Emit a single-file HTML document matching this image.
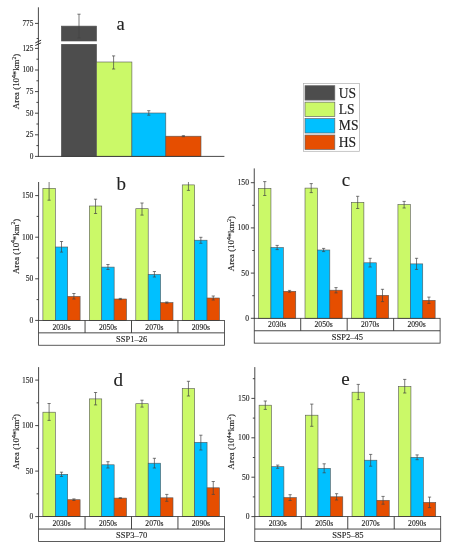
<!DOCTYPE html>
<html><head><meta charset="utf-8"><title>Figure</title>
<style>html,body{margin:0;padding:0;background:#fff}svg{display:block}text{font-family:"Liberation Serif","Times New Roman",serif;stroke:#222;stroke-width:0.12px}</style>
</head><body>
<svg width="454" height="550" viewBox="0 0 454 550">
<rect width="454" height="550" fill="#fff"/>
<rect x="61.30" y="26.10" width="35.30" height="130.30" fill="#4d4d4d" stroke="#555" stroke-width="0.6"/>
<rect x="96.60" y="62.00" width="35.30" height="94.40" fill="#cbf968" stroke="#555" stroke-width="0.6"/>
<rect x="131.90" y="113.00" width="33.90" height="43.40" fill="#00c0ff" stroke="#555" stroke-width="0.6"/>
<rect x="165.80" y="136.20" width="35.20" height="20.20" fill="#e64e00" stroke="#555" stroke-width="0.6"/>
<rect x="60.5" y="41.3" width="37" height="2.8" fill="#fff"/>
<line x1="79.00" y1="14.20" x2="79.00" y2="38.00" stroke="#444" stroke-width="0.7"/>
<line x1="77.40" y1="14.20" x2="80.60" y2="14.20" stroke="#444" stroke-width="0.7"/>
<line x1="77.40" y1="38.00" x2="80.60" y2="38.00" stroke="#444" stroke-width="0.7"/>
<line x1="113.60" y1="55.90" x2="113.60" y2="69.00" stroke="#444" stroke-width="0.7"/>
<line x1="112.00" y1="55.90" x2="115.20" y2="55.90" stroke="#444" stroke-width="0.7"/>
<line x1="112.00" y1="69.00" x2="115.20" y2="69.00" stroke="#444" stroke-width="0.7"/>
<line x1="148.80" y1="110.70" x2="148.80" y2="115.20" stroke="#444" stroke-width="0.7"/>
<line x1="147.20" y1="110.70" x2="150.40" y2="110.70" stroke="#444" stroke-width="0.7"/>
<line x1="147.20" y1="115.20" x2="150.40" y2="115.20" stroke="#444" stroke-width="0.7"/>
<line x1="183.40" y1="135.70" x2="183.40" y2="136.70" stroke="#444" stroke-width="0.7"/>
<line x1="181.80" y1="135.70" x2="185.00" y2="135.70" stroke="#444" stroke-width="0.7"/>
<line x1="181.80" y1="136.70" x2="185.00" y2="136.70" stroke="#444" stroke-width="0.7"/>
<line x1="38.40" y1="7.30" x2="38.40" y2="156.40" stroke="#333" stroke-width="0.9"/>
<line x1="38.00" y1="156.40" x2="224.40" y2="156.40" stroke="#333" stroke-width="0.9"/>
<line x1="35.30" y1="42.90" x2="41.10" y2="40.20" stroke="#333" stroke-width="1.0"/>
<line x1="35.30" y1="45.50" x2="41.10" y2="42.80" stroke="#333" stroke-width="1.0"/>
<line x1="35.00" y1="156.40" x2="38.40" y2="156.40" stroke="#333" stroke-width="0.9"/>
<text x="33.40" y="158.80" font-size="7.3" text-anchor="end" fill="#222" >0</text>
<line x1="36.40" y1="145.60" x2="38.40" y2="145.60" stroke="#333" stroke-width="0.9"/>
<line x1="35.00" y1="134.80" x2="38.40" y2="134.80" stroke="#333" stroke-width="0.9"/>
<text x="33.40" y="137.20" font-size="7.3" text-anchor="end" fill="#222" >25</text>
<line x1="36.40" y1="124.00" x2="38.40" y2="124.00" stroke="#333" stroke-width="0.9"/>
<line x1="35.00" y1="113.20" x2="38.40" y2="113.20" stroke="#333" stroke-width="0.9"/>
<text x="33.40" y="115.60" font-size="7.3" text-anchor="end" fill="#222" >50</text>
<line x1="36.40" y1="102.40" x2="38.40" y2="102.40" stroke="#333" stroke-width="0.9"/>
<line x1="35.00" y1="91.60" x2="38.40" y2="91.60" stroke="#333" stroke-width="0.9"/>
<text x="33.40" y="94.00" font-size="7.3" text-anchor="end" fill="#222" >75</text>
<line x1="36.40" y1="80.80" x2="38.40" y2="80.80" stroke="#333" stroke-width="0.9"/>
<line x1="35.00" y1="70.00" x2="38.40" y2="70.00" stroke="#333" stroke-width="0.9"/>
<text x="33.40" y="72.40" font-size="7.3" text-anchor="end" fill="#222" >100</text>
<line x1="36.40" y1="59.20" x2="38.40" y2="59.20" stroke="#333" stroke-width="0.9"/>
<line x1="35.00" y1="48.40" x2="38.40" y2="48.40" stroke="#333" stroke-width="0.9"/>
<text x="33.40" y="50.80" font-size="7.3" text-anchor="end" fill="#222" >125</text>
<line x1="35.00" y1="23.40" x2="38.40" y2="23.40" stroke="#333" stroke-width="0.9"/>
<text x="33.40" y="25.80" font-size="7.3" text-anchor="end" fill="#222" >775</text>
<line x1="36.60" y1="38.50" x2="38.40" y2="38.50" stroke="#333" stroke-width="0.9"/>
<text transform="translate(18.90,81.50) rotate(-90) scale(1.065,1)" font-size="8.3" text-anchor="middle" fill="#222">Area (10<tspan font-size="5.15" dy="-3.15">4</tspan><tspan dy="3.15">*km</tspan><tspan font-size="5.15" dy="-3.15">2</tspan><tspan dy="3.15">)</tspan></text>
<text x="116.50" y="30.30" font-size="18.6" text-anchor="start" fill="#222" >a</text>
<rect x="303.40" y="83.60" width="56.00" height="67.70" fill="#fff" stroke="#b0b0b0" stroke-width="0.7"/>
<rect x="305.00" y="85.70" width="29.80" height="14.40" fill="#4d4d4d" stroke="#666" stroke-width="0.7"/>
<text x="338.80" y="97.50" font-size="13.6" text-anchor="start" fill="#222" >US</text>
<rect x="305.00" y="102.15" width="29.80" height="14.40" fill="#cbf968" stroke="#666" stroke-width="0.7"/>
<text x="338.80" y="113.95" font-size="13.6" text-anchor="start" fill="#222" >LS</text>
<rect x="305.00" y="118.60" width="29.80" height="14.40" fill="#00c0ff" stroke="#666" stroke-width="0.7"/>
<text x="338.80" y="130.40" font-size="13.6" text-anchor="start" fill="#222" >MS</text>
<rect x="305.00" y="135.05" width="29.80" height="14.40" fill="#e64e00" stroke="#666" stroke-width="0.7"/>
<text x="338.80" y="146.85" font-size="13.6" text-anchor="start" fill="#222" >HS</text>
<rect x="42.90" y="188.30" width="12.40" height="132.10" fill="#cbf968" stroke="#555" stroke-width="0.6"/>
<rect x="55.30" y="247.00" width="12.40" height="73.40" fill="#00c0ff" stroke="#555" stroke-width="0.6"/>
<rect x="67.70" y="296.40" width="12.40" height="24.00" fill="#e64e00" stroke="#555" stroke-width="0.6"/>
<line x1="49.10" y1="182.00" x2="49.10" y2="200.20" stroke="#444" stroke-width="0.7"/>
<line x1="47.50" y1="200.20" x2="50.70" y2="200.20" stroke="#444" stroke-width="0.7"/>
<line x1="61.50" y1="241.50" x2="61.50" y2="252.10" stroke="#444" stroke-width="0.7"/>
<line x1="59.90" y1="241.50" x2="63.10" y2="241.50" stroke="#444" stroke-width="0.7"/>
<line x1="59.90" y1="252.10" x2="63.10" y2="252.10" stroke="#444" stroke-width="0.7"/>
<line x1="73.90" y1="293.50" x2="73.90" y2="299.00" stroke="#444" stroke-width="0.7"/>
<line x1="72.30" y1="293.50" x2="75.50" y2="293.50" stroke="#444" stroke-width="0.7"/>
<line x1="72.30" y1="299.00" x2="75.50" y2="299.00" stroke="#444" stroke-width="0.7"/>
<rect x="89.35" y="206.00" width="12.40" height="114.40" fill="#cbf968" stroke="#555" stroke-width="0.6"/>
<rect x="101.75" y="267.10" width="12.40" height="53.30" fill="#00c0ff" stroke="#555" stroke-width="0.6"/>
<rect x="114.15" y="299.00" width="12.40" height="21.40" fill="#e64e00" stroke="#555" stroke-width="0.6"/>
<line x1="95.55" y1="199.20" x2="95.55" y2="213.50" stroke="#444" stroke-width="0.7"/>
<line x1="93.95" y1="199.20" x2="97.15" y2="199.20" stroke="#444" stroke-width="0.7"/>
<line x1="93.95" y1="213.50" x2="97.15" y2="213.50" stroke="#444" stroke-width="0.7"/>
<line x1="107.95" y1="264.50" x2="107.95" y2="269.50" stroke="#444" stroke-width="0.7"/>
<line x1="106.35" y1="264.50" x2="109.55" y2="264.50" stroke="#444" stroke-width="0.7"/>
<line x1="106.35" y1="269.50" x2="109.55" y2="269.50" stroke="#444" stroke-width="0.7"/>
<line x1="120.35" y1="298.40" x2="120.35" y2="299.60" stroke="#444" stroke-width="0.7"/>
<line x1="118.75" y1="298.40" x2="121.95" y2="298.40" stroke="#444" stroke-width="0.7"/>
<line x1="118.75" y1="299.60" x2="121.95" y2="299.60" stroke="#444" stroke-width="0.7"/>
<rect x="135.80" y="208.70" width="12.40" height="111.70" fill="#cbf968" stroke="#555" stroke-width="0.6"/>
<rect x="148.20" y="274.40" width="12.40" height="46.00" fill="#00c0ff" stroke="#555" stroke-width="0.6"/>
<rect x="160.60" y="302.60" width="12.40" height="17.80" fill="#e64e00" stroke="#555" stroke-width="0.6"/>
<line x1="142.00" y1="203.00" x2="142.00" y2="215.10" stroke="#444" stroke-width="0.7"/>
<line x1="140.40" y1="203.00" x2="143.60" y2="203.00" stroke="#444" stroke-width="0.7"/>
<line x1="140.40" y1="215.10" x2="143.60" y2="215.10" stroke="#444" stroke-width="0.7"/>
<line x1="154.40" y1="271.50" x2="154.40" y2="277.00" stroke="#444" stroke-width="0.7"/>
<line x1="152.80" y1="271.50" x2="156.00" y2="271.50" stroke="#444" stroke-width="0.7"/>
<line x1="152.80" y1="277.00" x2="156.00" y2="277.00" stroke="#444" stroke-width="0.7"/>
<line x1="166.80" y1="302.00" x2="166.80" y2="303.20" stroke="#444" stroke-width="0.7"/>
<line x1="165.20" y1="302.00" x2="168.40" y2="302.00" stroke="#444" stroke-width="0.7"/>
<line x1="165.20" y1="303.20" x2="168.40" y2="303.20" stroke="#444" stroke-width="0.7"/>
<rect x="182.25" y="184.90" width="12.40" height="135.50" fill="#cbf968" stroke="#555" stroke-width="0.6"/>
<rect x="194.65" y="240.20" width="12.40" height="80.20" fill="#00c0ff" stroke="#555" stroke-width="0.6"/>
<rect x="207.05" y="298.00" width="12.40" height="22.40" fill="#e64e00" stroke="#555" stroke-width="0.6"/>
<line x1="188.45" y1="182.00" x2="188.45" y2="190.40" stroke="#444" stroke-width="0.7"/>
<line x1="186.85" y1="190.40" x2="190.05" y2="190.40" stroke="#444" stroke-width="0.7"/>
<line x1="200.85" y1="237.30" x2="200.85" y2="243.30" stroke="#444" stroke-width="0.7"/>
<line x1="199.25" y1="237.30" x2="202.45" y2="237.30" stroke="#444" stroke-width="0.7"/>
<line x1="199.25" y1="243.30" x2="202.45" y2="243.30" stroke="#444" stroke-width="0.7"/>
<line x1="213.25" y1="296.00" x2="213.25" y2="300.00" stroke="#444" stroke-width="0.7"/>
<line x1="211.65" y1="296.00" x2="214.85" y2="296.00" stroke="#444" stroke-width="0.7"/>
<line x1="211.65" y1="300.00" x2="214.85" y2="300.00" stroke="#444" stroke-width="0.7"/>
<line x1="38.60" y1="182.00" x2="38.60" y2="320.40" stroke="#333" stroke-width="0.9"/>
<line x1="35.20" y1="320.40" x2="38.60" y2="320.40" stroke="#333" stroke-width="0.9"/>
<text x="33.30" y="322.90" font-size="7.6" text-anchor="end" fill="#222" >0</text>
<line x1="35.20" y1="278.80" x2="38.60" y2="278.80" stroke="#333" stroke-width="0.9"/>
<text x="33.30" y="281.30" font-size="7.6" text-anchor="end" fill="#222" >50</text>
<line x1="35.20" y1="237.20" x2="38.60" y2="237.20" stroke="#333" stroke-width="0.9"/>
<text x="33.30" y="239.70" font-size="7.6" text-anchor="end" fill="#222" >100</text>
<line x1="35.20" y1="195.60" x2="38.60" y2="195.60" stroke="#333" stroke-width="0.9"/>
<text x="33.30" y="198.10" font-size="7.6" text-anchor="end" fill="#222" >150</text>
<line x1="36.60" y1="299.60" x2="38.60" y2="299.60" stroke="#333" stroke-width="0.9"/>
<line x1="36.60" y1="258.00" x2="38.60" y2="258.00" stroke="#333" stroke-width="0.9"/>
<line x1="36.60" y1="216.40" x2="38.60" y2="216.40" stroke="#333" stroke-width="0.9"/>
<rect x="38.60" y="320.40" width="185.80" height="24.85" fill="none" stroke="#333" stroke-width="0.8"/>
<line x1="38.60" y1="332.85" x2="224.40" y2="332.85" stroke="#333" stroke-width="0.9"/>
<line x1="85.05" y1="320.40" x2="85.05" y2="332.85" stroke="#333" stroke-width="0.9"/>
<line x1="131.50" y1="320.40" x2="131.50" y2="332.85" stroke="#333" stroke-width="0.9"/>
<line x1="177.95" y1="320.40" x2="177.95" y2="332.85" stroke="#333" stroke-width="0.9"/>
<text x="61.53" y="329.50" font-size="7.6" text-anchor="middle" fill="#222" >2030s</text>
<text x="107.98" y="329.50" font-size="7.6" text-anchor="middle" fill="#222" >2050s</text>
<text x="154.42" y="329.50" font-size="7.6" text-anchor="middle" fill="#222" >2070s</text>
<text x="200.88" y="329.50" font-size="7.6" text-anchor="middle" fill="#222" >2090s</text>
<text x="131.70" y="342.15" font-size="8.5" text-anchor="middle" fill="#222" >SSP1–26</text>
<text transform="translate(18.50,246.40) rotate(-90) scale(1.065,1)" font-size="8.3" text-anchor="middle" fill="#222">Area (10<tspan font-size="5.15" dy="-3.15">4</tspan><tspan dy="3.15">*km</tspan><tspan font-size="5.15" dy="-3.15">2</tspan><tspan dy="3.15">)</tspan></text>
<text x="116.60" y="189.70" font-size="19" text-anchor="start" fill="#222" >b</text>
<rect x="258.55" y="188.40" width="12.40" height="129.90" fill="#cbf968" stroke="#555" stroke-width="0.6"/>
<rect x="270.95" y="247.50" width="12.40" height="70.80" fill="#00c0ff" stroke="#555" stroke-width="0.6"/>
<rect x="283.35" y="291.30" width="12.40" height="27.00" fill="#e64e00" stroke="#555" stroke-width="0.6"/>
<line x1="264.75" y1="181.60" x2="264.75" y2="195.50" stroke="#444" stroke-width="0.7"/>
<line x1="263.15" y1="181.60" x2="266.35" y2="181.60" stroke="#444" stroke-width="0.7"/>
<line x1="263.15" y1="195.50" x2="266.35" y2="195.50" stroke="#444" stroke-width="0.7"/>
<line x1="277.15" y1="245.40" x2="277.15" y2="249.60" stroke="#444" stroke-width="0.7"/>
<line x1="275.55" y1="245.40" x2="278.75" y2="245.40" stroke="#444" stroke-width="0.7"/>
<line x1="275.55" y1="249.60" x2="278.75" y2="249.60" stroke="#444" stroke-width="0.7"/>
<line x1="289.55" y1="290.40" x2="289.55" y2="292.20" stroke="#444" stroke-width="0.7"/>
<line x1="287.95" y1="290.40" x2="291.15" y2="290.40" stroke="#444" stroke-width="0.7"/>
<line x1="287.95" y1="292.20" x2="291.15" y2="292.20" stroke="#444" stroke-width="0.7"/>
<rect x="305.01" y="188.10" width="12.40" height="130.20" fill="#cbf968" stroke="#555" stroke-width="0.6"/>
<rect x="317.41" y="250.00" width="12.40" height="68.30" fill="#00c0ff" stroke="#555" stroke-width="0.6"/>
<rect x="329.81" y="290.20" width="12.40" height="28.10" fill="#e64e00" stroke="#555" stroke-width="0.6"/>
<line x1="311.21" y1="183.60" x2="311.21" y2="192.60" stroke="#444" stroke-width="0.7"/>
<line x1="309.61" y1="183.60" x2="312.81" y2="183.60" stroke="#444" stroke-width="0.7"/>
<line x1="309.61" y1="192.60" x2="312.81" y2="192.60" stroke="#444" stroke-width="0.7"/>
<line x1="323.61" y1="248.40" x2="323.61" y2="251.60" stroke="#444" stroke-width="0.7"/>
<line x1="322.01" y1="248.40" x2="325.21" y2="248.40" stroke="#444" stroke-width="0.7"/>
<line x1="322.01" y1="251.60" x2="325.21" y2="251.60" stroke="#444" stroke-width="0.7"/>
<line x1="336.01" y1="287.60" x2="336.01" y2="292.90" stroke="#444" stroke-width="0.7"/>
<line x1="334.41" y1="287.60" x2="337.61" y2="287.60" stroke="#444" stroke-width="0.7"/>
<line x1="334.41" y1="292.90" x2="337.61" y2="292.90" stroke="#444" stroke-width="0.7"/>
<rect x="351.48" y="202.30" width="12.40" height="116.00" fill="#cbf968" stroke="#555" stroke-width="0.6"/>
<rect x="363.88" y="262.80" width="12.40" height="55.50" fill="#00c0ff" stroke="#555" stroke-width="0.6"/>
<rect x="376.28" y="295.30" width="12.40" height="23.00" fill="#e64e00" stroke="#555" stroke-width="0.6"/>
<line x1="357.68" y1="196.30" x2="357.68" y2="208.50" stroke="#444" stroke-width="0.7"/>
<line x1="356.07" y1="196.30" x2="359.28" y2="196.30" stroke="#444" stroke-width="0.7"/>
<line x1="356.07" y1="208.50" x2="359.28" y2="208.50" stroke="#444" stroke-width="0.7"/>
<line x1="370.07" y1="258.30" x2="370.07" y2="267.00" stroke="#444" stroke-width="0.7"/>
<line x1="368.47" y1="258.30" x2="371.68" y2="258.30" stroke="#444" stroke-width="0.7"/>
<line x1="368.47" y1="267.00" x2="371.68" y2="267.00" stroke="#444" stroke-width="0.7"/>
<line x1="382.48" y1="289.30" x2="382.48" y2="301.60" stroke="#444" stroke-width="0.7"/>
<line x1="380.88" y1="289.30" x2="384.08" y2="289.30" stroke="#444" stroke-width="0.7"/>
<line x1="380.88" y1="301.60" x2="384.08" y2="301.60" stroke="#444" stroke-width="0.7"/>
<rect x="397.94" y="204.50" width="12.40" height="113.80" fill="#cbf968" stroke="#555" stroke-width="0.6"/>
<rect x="410.34" y="263.90" width="12.40" height="54.40" fill="#00c0ff" stroke="#555" stroke-width="0.6"/>
<rect x="422.74" y="300.30" width="12.40" height="18.00" fill="#e64e00" stroke="#555" stroke-width="0.6"/>
<line x1="404.14" y1="201.40" x2="404.14" y2="208.00" stroke="#444" stroke-width="0.7"/>
<line x1="402.54" y1="201.40" x2="405.74" y2="201.40" stroke="#444" stroke-width="0.7"/>
<line x1="402.54" y1="208.00" x2="405.74" y2="208.00" stroke="#444" stroke-width="0.7"/>
<line x1="416.54" y1="258.30" x2="416.54" y2="269.40" stroke="#444" stroke-width="0.7"/>
<line x1="414.94" y1="258.30" x2="418.14" y2="258.30" stroke="#444" stroke-width="0.7"/>
<line x1="414.94" y1="269.40" x2="418.14" y2="269.40" stroke="#444" stroke-width="0.7"/>
<line x1="428.94" y1="297.10" x2="428.94" y2="303.40" stroke="#444" stroke-width="0.7"/>
<line x1="427.34" y1="297.10" x2="430.54" y2="297.10" stroke="#444" stroke-width="0.7"/>
<line x1="427.34" y1="303.40" x2="430.54" y2="303.40" stroke="#444" stroke-width="0.7"/>
<line x1="254.25" y1="168.40" x2="254.25" y2="318.30" stroke="#333" stroke-width="0.9"/>
<line x1="250.85" y1="318.30" x2="254.25" y2="318.30" stroke="#333" stroke-width="0.9"/>
<text x="248.95" y="320.80" font-size="7.6" text-anchor="end" fill="#222" >0</text>
<line x1="250.85" y1="273.10" x2="254.25" y2="273.10" stroke="#333" stroke-width="0.9"/>
<text x="248.95" y="275.60" font-size="7.6" text-anchor="end" fill="#222" >50</text>
<line x1="250.85" y1="227.90" x2="254.25" y2="227.90" stroke="#333" stroke-width="0.9"/>
<text x="248.95" y="230.40" font-size="7.6" text-anchor="end" fill="#222" >100</text>
<line x1="250.85" y1="182.70" x2="254.25" y2="182.70" stroke="#333" stroke-width="0.9"/>
<text x="248.95" y="185.20" font-size="7.6" text-anchor="end" fill="#222" >150</text>
<line x1="252.25" y1="295.70" x2="254.25" y2="295.70" stroke="#333" stroke-width="0.9"/>
<line x1="252.25" y1="250.50" x2="254.25" y2="250.50" stroke="#333" stroke-width="0.9"/>
<line x1="252.25" y1="205.30" x2="254.25" y2="205.30" stroke="#333" stroke-width="0.9"/>
<rect x="254.25" y="318.30" width="185.85" height="24.85" fill="none" stroke="#333" stroke-width="0.8"/>
<line x1="254.25" y1="330.75" x2="440.10" y2="330.75" stroke="#333" stroke-width="0.9"/>
<line x1="300.71" y1="318.30" x2="300.71" y2="330.75" stroke="#333" stroke-width="0.9"/>
<line x1="347.18" y1="318.30" x2="347.18" y2="330.75" stroke="#333" stroke-width="0.9"/>
<line x1="393.64" y1="318.30" x2="393.64" y2="330.75" stroke="#333" stroke-width="0.9"/>
<text x="277.18" y="327.40" font-size="7.6" text-anchor="middle" fill="#222" >2030s</text>
<text x="323.64" y="327.40" font-size="7.6" text-anchor="middle" fill="#222" >2050s</text>
<text x="370.11" y="327.40" font-size="7.6" text-anchor="middle" fill="#222" >2070s</text>
<text x="416.57" y="327.40" font-size="7.6" text-anchor="middle" fill="#222" >2090s</text>
<text x="347.38" y="340.05" font-size="8.5" text-anchor="middle" fill="#222" >SSP2–45</text>
<text transform="translate(234.00,243.60) rotate(-90) scale(1.065,1)" font-size="8.3" text-anchor="middle" fill="#222">Area (10<tspan font-size="5.15" dy="-3.15">4</tspan><tspan dy="3.15">*km</tspan><tspan font-size="5.15" dy="-3.15">2</tspan><tspan dy="3.15">)</tspan></text>
<text x="341.80" y="185.70" font-size="19" text-anchor="start" fill="#222" >c</text>
<rect x="42.90" y="412.20" width="12.40" height="104.40" fill="#cbf968" stroke="#555" stroke-width="0.6"/>
<rect x="55.30" y="474.30" width="12.40" height="42.30" fill="#00c0ff" stroke="#555" stroke-width="0.6"/>
<rect x="67.70" y="499.70" width="12.40" height="16.90" fill="#e64e00" stroke="#555" stroke-width="0.6"/>
<line x1="49.10" y1="403.50" x2="49.10" y2="420.40" stroke="#444" stroke-width="0.7"/>
<line x1="47.50" y1="403.50" x2="50.70" y2="403.50" stroke="#444" stroke-width="0.7"/>
<line x1="47.50" y1="420.40" x2="50.70" y2="420.40" stroke="#444" stroke-width="0.7"/>
<line x1="61.50" y1="472.20" x2="61.50" y2="476.50" stroke="#444" stroke-width="0.7"/>
<line x1="59.90" y1="472.20" x2="63.10" y2="472.20" stroke="#444" stroke-width="0.7"/>
<line x1="59.90" y1="476.50" x2="63.10" y2="476.50" stroke="#444" stroke-width="0.7"/>
<line x1="73.90" y1="498.90" x2="73.90" y2="500.50" stroke="#444" stroke-width="0.7"/>
<line x1="72.30" y1="498.90" x2="75.50" y2="498.90" stroke="#444" stroke-width="0.7"/>
<line x1="72.30" y1="500.50" x2="75.50" y2="500.50" stroke="#444" stroke-width="0.7"/>
<rect x="89.35" y="398.90" width="12.40" height="117.70" fill="#cbf968" stroke="#555" stroke-width="0.6"/>
<rect x="101.75" y="464.80" width="12.40" height="51.80" fill="#00c0ff" stroke="#555" stroke-width="0.6"/>
<rect x="114.15" y="498.10" width="12.40" height="18.50" fill="#e64e00" stroke="#555" stroke-width="0.6"/>
<line x1="95.55" y1="392.50" x2="95.55" y2="404.90" stroke="#444" stroke-width="0.7"/>
<line x1="93.95" y1="392.50" x2="97.15" y2="392.50" stroke="#444" stroke-width="0.7"/>
<line x1="93.95" y1="404.90" x2="97.15" y2="404.90" stroke="#444" stroke-width="0.7"/>
<line x1="107.95" y1="461.70" x2="107.95" y2="468.00" stroke="#444" stroke-width="0.7"/>
<line x1="106.35" y1="461.70" x2="109.55" y2="461.70" stroke="#444" stroke-width="0.7"/>
<line x1="106.35" y1="468.00" x2="109.55" y2="468.00" stroke="#444" stroke-width="0.7"/>
<line x1="120.35" y1="497.70" x2="120.35" y2="498.50" stroke="#444" stroke-width="0.7"/>
<line x1="118.75" y1="497.70" x2="121.95" y2="497.70" stroke="#444" stroke-width="0.7"/>
<line x1="118.75" y1="498.50" x2="121.95" y2="498.50" stroke="#444" stroke-width="0.7"/>
<rect x="135.80" y="403.70" width="12.40" height="112.90" fill="#cbf968" stroke="#555" stroke-width="0.6"/>
<rect x="148.20" y="463.20" width="12.40" height="53.40" fill="#00c0ff" stroke="#555" stroke-width="0.6"/>
<rect x="160.60" y="497.80" width="12.40" height="18.80" fill="#e64e00" stroke="#555" stroke-width="0.6"/>
<line x1="142.00" y1="400.20" x2="142.00" y2="407.10" stroke="#444" stroke-width="0.7"/>
<line x1="140.40" y1="400.20" x2="143.60" y2="400.20" stroke="#444" stroke-width="0.7"/>
<line x1="140.40" y1="407.10" x2="143.60" y2="407.10" stroke="#444" stroke-width="0.7"/>
<line x1="154.40" y1="458.30" x2="154.40" y2="468.00" stroke="#444" stroke-width="0.7"/>
<line x1="152.80" y1="458.30" x2="156.00" y2="458.30" stroke="#444" stroke-width="0.7"/>
<line x1="152.80" y1="468.00" x2="156.00" y2="468.00" stroke="#444" stroke-width="0.7"/>
<line x1="166.80" y1="494.40" x2="166.80" y2="501.30" stroke="#444" stroke-width="0.7"/>
<line x1="165.20" y1="494.40" x2="168.40" y2="494.40" stroke="#444" stroke-width="0.7"/>
<line x1="165.20" y1="501.30" x2="168.40" y2="501.30" stroke="#444" stroke-width="0.7"/>
<rect x="182.25" y="388.50" width="12.40" height="128.10" fill="#cbf968" stroke="#555" stroke-width="0.6"/>
<rect x="194.65" y="442.30" width="12.40" height="74.30" fill="#00c0ff" stroke="#555" stroke-width="0.6"/>
<rect x="207.05" y="487.80" width="12.40" height="28.80" fill="#e64e00" stroke="#555" stroke-width="0.6"/>
<line x1="188.45" y1="381.30" x2="188.45" y2="396.00" stroke="#444" stroke-width="0.7"/>
<line x1="186.85" y1="381.30" x2="190.05" y2="381.30" stroke="#444" stroke-width="0.7"/>
<line x1="186.85" y1="396.00" x2="190.05" y2="396.00" stroke="#444" stroke-width="0.7"/>
<line x1="200.85" y1="435.20" x2="200.85" y2="450.00" stroke="#444" stroke-width="0.7"/>
<line x1="199.25" y1="435.20" x2="202.45" y2="435.20" stroke="#444" stroke-width="0.7"/>
<line x1="199.25" y1="450.00" x2="202.45" y2="450.00" stroke="#444" stroke-width="0.7"/>
<line x1="213.25" y1="481.50" x2="213.25" y2="494.40" stroke="#444" stroke-width="0.7"/>
<line x1="211.65" y1="481.50" x2="214.85" y2="481.50" stroke="#444" stroke-width="0.7"/>
<line x1="211.65" y1="494.40" x2="214.85" y2="494.40" stroke="#444" stroke-width="0.7"/>
<line x1="38.60" y1="367.10" x2="38.60" y2="516.60" stroke="#333" stroke-width="0.9"/>
<line x1="35.20" y1="516.60" x2="38.60" y2="516.60" stroke="#333" stroke-width="0.9"/>
<text x="33.30" y="519.10" font-size="7.6" text-anchor="end" fill="#222" >0</text>
<line x1="35.20" y1="471.10" x2="38.60" y2="471.10" stroke="#333" stroke-width="0.9"/>
<text x="33.30" y="473.60" font-size="7.6" text-anchor="end" fill="#222" >50</text>
<line x1="35.20" y1="425.60" x2="38.60" y2="425.60" stroke="#333" stroke-width="0.9"/>
<text x="33.30" y="428.10" font-size="7.6" text-anchor="end" fill="#222" >100</text>
<line x1="35.20" y1="380.10" x2="38.60" y2="380.10" stroke="#333" stroke-width="0.9"/>
<text x="33.30" y="382.60" font-size="7.6" text-anchor="end" fill="#222" >150</text>
<line x1="36.60" y1="493.85" x2="38.60" y2="493.85" stroke="#333" stroke-width="0.9"/>
<line x1="36.60" y1="448.35" x2="38.60" y2="448.35" stroke="#333" stroke-width="0.9"/>
<line x1="36.60" y1="402.85" x2="38.60" y2="402.85" stroke="#333" stroke-width="0.9"/>
<rect x="38.60" y="516.60" width="185.80" height="24.85" fill="none" stroke="#333" stroke-width="0.8"/>
<line x1="38.60" y1="529.05" x2="224.40" y2="529.05" stroke="#333" stroke-width="0.9"/>
<line x1="85.05" y1="516.60" x2="85.05" y2="529.05" stroke="#333" stroke-width="0.9"/>
<line x1="131.50" y1="516.60" x2="131.50" y2="529.05" stroke="#333" stroke-width="0.9"/>
<line x1="177.95" y1="516.60" x2="177.95" y2="529.05" stroke="#333" stroke-width="0.9"/>
<text x="61.53" y="525.70" font-size="7.6" text-anchor="middle" fill="#222" >2030s</text>
<text x="107.98" y="525.70" font-size="7.6" text-anchor="middle" fill="#222" >2050s</text>
<text x="154.42" y="525.70" font-size="7.6" text-anchor="middle" fill="#222" >2070s</text>
<text x="200.88" y="525.70" font-size="7.6" text-anchor="middle" fill="#222" >2090s</text>
<text x="131.70" y="538.35" font-size="8.5" text-anchor="middle" fill="#222" >SSP3–70</text>
<text transform="translate(18.90,441.60) rotate(-90) scale(1.065,1)" font-size="8.3" text-anchor="middle" fill="#222">Area (10<tspan font-size="5.15" dy="-3.15">4</tspan><tspan dy="3.15">*km</tspan><tspan font-size="5.15" dy="-3.15">2</tspan><tspan dy="3.15">)</tspan></text>
<text x="113.40" y="386.30" font-size="19" text-anchor="start" fill="#222" >d</text>
<rect x="259.10" y="405.20" width="12.40" height="111.40" fill="#cbf968" stroke="#555" stroke-width="0.6"/>
<rect x="271.50" y="466.70" width="12.40" height="49.90" fill="#00c0ff" stroke="#555" stroke-width="0.6"/>
<rect x="283.90" y="497.60" width="12.40" height="19.00" fill="#e64e00" stroke="#555" stroke-width="0.6"/>
<line x1="265.30" y1="401.00" x2="265.30" y2="409.40" stroke="#444" stroke-width="0.7"/>
<line x1="263.70" y1="401.00" x2="266.90" y2="401.00" stroke="#444" stroke-width="0.7"/>
<line x1="263.70" y1="409.40" x2="266.90" y2="409.40" stroke="#444" stroke-width="0.7"/>
<line x1="277.70" y1="465.10" x2="277.70" y2="468.30" stroke="#444" stroke-width="0.7"/>
<line x1="276.10" y1="465.10" x2="279.30" y2="465.10" stroke="#444" stroke-width="0.7"/>
<line x1="276.10" y1="468.30" x2="279.30" y2="468.30" stroke="#444" stroke-width="0.7"/>
<line x1="290.10" y1="494.70" x2="290.10" y2="500.50" stroke="#444" stroke-width="0.7"/>
<line x1="288.50" y1="494.70" x2="291.70" y2="494.70" stroke="#444" stroke-width="0.7"/>
<line x1="288.50" y1="500.50" x2="291.70" y2="500.50" stroke="#444" stroke-width="0.7"/>
<rect x="305.57" y="415.20" width="12.40" height="101.40" fill="#cbf968" stroke="#555" stroke-width="0.6"/>
<rect x="317.97" y="468.30" width="12.40" height="48.30" fill="#00c0ff" stroke="#555" stroke-width="0.6"/>
<rect x="330.38" y="496.80" width="12.40" height="19.80" fill="#e64e00" stroke="#555" stroke-width="0.6"/>
<line x1="311.77" y1="404.10" x2="311.77" y2="426.30" stroke="#444" stroke-width="0.7"/>
<line x1="310.17" y1="404.10" x2="313.38" y2="404.10" stroke="#444" stroke-width="0.7"/>
<line x1="310.17" y1="426.30" x2="313.38" y2="426.30" stroke="#444" stroke-width="0.7"/>
<line x1="324.17" y1="463.80" x2="324.17" y2="472.80" stroke="#444" stroke-width="0.7"/>
<line x1="322.57" y1="463.80" x2="325.77" y2="463.80" stroke="#444" stroke-width="0.7"/>
<line x1="322.57" y1="472.80" x2="325.77" y2="472.80" stroke="#444" stroke-width="0.7"/>
<line x1="336.57" y1="493.70" x2="336.57" y2="500.00" stroke="#444" stroke-width="0.7"/>
<line x1="334.97" y1="493.70" x2="338.18" y2="493.70" stroke="#444" stroke-width="0.7"/>
<line x1="334.97" y1="500.00" x2="338.18" y2="500.00" stroke="#444" stroke-width="0.7"/>
<rect x="352.05" y="392.20" width="12.40" height="124.40" fill="#cbf968" stroke="#555" stroke-width="0.6"/>
<rect x="364.45" y="460.20" width="12.40" height="56.40" fill="#00c0ff" stroke="#555" stroke-width="0.6"/>
<rect x="376.85" y="500.30" width="12.40" height="16.30" fill="#e64e00" stroke="#555" stroke-width="0.6"/>
<line x1="358.25" y1="384.40" x2="358.25" y2="399.60" stroke="#444" stroke-width="0.7"/>
<line x1="356.65" y1="384.40" x2="359.85" y2="384.40" stroke="#444" stroke-width="0.7"/>
<line x1="356.65" y1="399.60" x2="359.85" y2="399.60" stroke="#444" stroke-width="0.7"/>
<line x1="370.65" y1="454.40" x2="370.65" y2="466.20" stroke="#444" stroke-width="0.7"/>
<line x1="369.05" y1="454.40" x2="372.25" y2="454.40" stroke="#444" stroke-width="0.7"/>
<line x1="369.05" y1="466.20" x2="372.25" y2="466.20" stroke="#444" stroke-width="0.7"/>
<line x1="383.05" y1="496.40" x2="383.05" y2="504.20" stroke="#444" stroke-width="0.7"/>
<line x1="381.45" y1="496.40" x2="384.65" y2="496.40" stroke="#444" stroke-width="0.7"/>
<line x1="381.45" y1="504.20" x2="384.65" y2="504.20" stroke="#444" stroke-width="0.7"/>
<rect x="398.53" y="386.50" width="12.40" height="130.10" fill="#cbf968" stroke="#555" stroke-width="0.6"/>
<rect x="410.93" y="457.30" width="12.40" height="59.30" fill="#00c0ff" stroke="#555" stroke-width="0.6"/>
<rect x="423.33" y="502.40" width="12.40" height="14.20" fill="#e64e00" stroke="#555" stroke-width="0.6"/>
<line x1="404.73" y1="379.40" x2="404.73" y2="393.00" stroke="#444" stroke-width="0.7"/>
<line x1="403.12" y1="379.40" x2="406.33" y2="379.40" stroke="#444" stroke-width="0.7"/>
<line x1="403.12" y1="393.00" x2="406.33" y2="393.00" stroke="#444" stroke-width="0.7"/>
<line x1="417.12" y1="454.90" x2="417.12" y2="459.70" stroke="#444" stroke-width="0.7"/>
<line x1="415.52" y1="454.90" x2="418.73" y2="454.90" stroke="#444" stroke-width="0.7"/>
<line x1="415.52" y1="459.70" x2="418.73" y2="459.70" stroke="#444" stroke-width="0.7"/>
<line x1="429.53" y1="497.10" x2="429.53" y2="507.60" stroke="#444" stroke-width="0.7"/>
<line x1="427.93" y1="497.10" x2="431.13" y2="497.10" stroke="#444" stroke-width="0.7"/>
<line x1="427.93" y1="507.60" x2="431.13" y2="507.60" stroke="#444" stroke-width="0.7"/>
<line x1="254.80" y1="367.10" x2="254.80" y2="516.60" stroke="#333" stroke-width="0.9"/>
<line x1="251.40" y1="516.60" x2="254.80" y2="516.60" stroke="#333" stroke-width="0.9"/>
<text x="249.50" y="519.10" font-size="7.6" text-anchor="end" fill="#222" >0</text>
<line x1="251.40" y1="477.20" x2="254.80" y2="477.20" stroke="#333" stroke-width="0.9"/>
<text x="249.50" y="479.70" font-size="7.6" text-anchor="end" fill="#222" >50</text>
<line x1="251.40" y1="437.80" x2="254.80" y2="437.80" stroke="#333" stroke-width="0.9"/>
<text x="249.50" y="440.30" font-size="7.6" text-anchor="end" fill="#222" >100</text>
<line x1="251.40" y1="398.40" x2="254.80" y2="398.40" stroke="#333" stroke-width="0.9"/>
<text x="249.50" y="400.90" font-size="7.6" text-anchor="end" fill="#222" >150</text>
<line x1="252.80" y1="496.90" x2="254.80" y2="496.90" stroke="#333" stroke-width="0.9"/>
<line x1="252.80" y1="457.50" x2="254.80" y2="457.50" stroke="#333" stroke-width="0.9"/>
<line x1="252.80" y1="418.10" x2="254.80" y2="418.10" stroke="#333" stroke-width="0.9"/>
<line x1="252.80" y1="378.70" x2="254.80" y2="378.70" stroke="#333" stroke-width="0.9"/>
<rect x="254.80" y="516.60" width="185.90" height="24.85" fill="none" stroke="#333" stroke-width="0.8"/>
<line x1="254.80" y1="529.05" x2="440.70" y2="529.05" stroke="#333" stroke-width="0.9"/>
<line x1="301.27" y1="516.60" x2="301.27" y2="529.05" stroke="#333" stroke-width="0.9"/>
<line x1="347.75" y1="516.60" x2="347.75" y2="529.05" stroke="#333" stroke-width="0.9"/>
<line x1="394.23" y1="516.60" x2="394.23" y2="529.05" stroke="#333" stroke-width="0.9"/>
<text x="277.74" y="525.70" font-size="7.6" text-anchor="middle" fill="#222" >2030s</text>
<text x="324.21" y="525.70" font-size="7.6" text-anchor="middle" fill="#222" >2050s</text>
<text x="370.69" y="525.70" font-size="7.6" text-anchor="middle" fill="#222" >2070s</text>
<text x="417.16" y="525.70" font-size="7.6" text-anchor="middle" fill="#222" >2090s</text>
<text x="347.95" y="538.35" font-size="8.5" text-anchor="middle" fill="#222" >SSP5–85</text>
<text transform="translate(234.40,441.80) rotate(-90) scale(1.065,1)" font-size="8.3" text-anchor="middle" fill="#222">Area (10<tspan font-size="5.15" dy="-3.15">4</tspan><tspan dy="3.15">*km</tspan><tspan font-size="5.15" dy="-3.15">2</tspan><tspan dy="3.15">)</tspan></text>
<text x="341.30" y="384.70" font-size="19" text-anchor="start" fill="#222" >e</text>
</svg>
</body></html>
